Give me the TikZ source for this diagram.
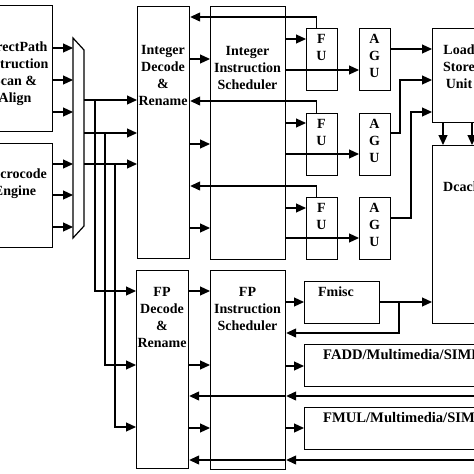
\documentclass[tikz,border=0pt]{standalone}
\usepackage{fontspec}
\setmainfont{Liberation Serif}
\usetikzlibrary{arrows.meta, positioning, calc}

\tikzset{
  blk/.style={draw, line width=1.2pt, inner sep=0pt, anchor=north west},
  lbl/.style={font=\fontsize{14}{17}\selectfont\bfseries, align=center, inner sep=0pt},
  arr/.style={line width=1.2pt, -{Triangle[length=10pt, width=9pt]}},
  wire/.style={line width=1.2pt}
}

\begin{document}
\begin{tikzpicture}[x=1pt, y=-1pt]
    \useasboundingbox (0,0) rectangle (474,474);
    \clip (0,0) rectangle (474,474);
    \node[blk, minimum width=74, minimum height=126] (dpath)  at (-22,5)  {};
    \node[blk, minimum width=74, minimum height=104] (mcode)  at (-22,143) {};
    \node[blk, minimum width=52, minimum height=252] (intdec) at (137,6)  {};
    \node[blk, minimum width=75, minimum height=253] (intsch) at (210,6)  {};
    \node[blk, minimum width=52, minimum height=198] (fpdec)  at (136,270) {};
    \node[blk, minimum width=75, minimum height=199] (fpsch)  at (210,270) {};
    \node[blk, minimum width=80, minimum height=94]  (lsu)    at (432,28) {};
    \node[blk, minimum width=80, minimum height=178] (dcache) at (432,145) {};
    \node[blk, minimum width=75, minimum height=42]  (fmisc)  at (304,281) {};
    \node[blk, minimum width=200, minimum height=42] (fadd)   at (304,344) {};
    \node[blk, minimum width=200, minimum height=42] (fmul)   at (304,407) {};
    \foreach \n/\t in {1/28, 2/113, 3/197}{%
      \node[blk, minimum width=31, minimum height=62] (fu\n)  at (306,\t) {};
      \node[blk, minimum width=31, minimum height=62] (agu\n) at (359,\t) {};
      \node[lbl] (fu\n T)  at (321.5,\t+19) {F\\U};
      \node[lbl] (agu\n T) at (374.5,\t+28) {A\\G\\U};
    }
    \draw[wire] (73,38) -- (84,50) -- (84,226) -- (73,238) -- cycle;
    \coordinate (muxL) at (73,0);
    \coordinate (muxR) at (84,0);

    \node[lbl] (dpathT)  at (15,74)    {DirectPath\\Instruction\\Scan \&\\Align};
    \node[lbl] (mcodeT)  at (15,184)   {Microcode\\Engine};
    \node[lbl] (intdecT) at (163,75)   {Integer\\Decode\\\&\\Rename};
    \node[lbl] (intschT) at (247.5,68) {Integer\\Instruction\\Scheduler};
    \node[lbl] (fpdecT)  at (162,317)  {FP\\Decode\\\&\\Rename};
    \node[lbl] (fpschT)  at (247.5,309) {FP\\Instruction\\Scheduler};
    \node[lbl] (lsuT)    at (459,67)   {Load\\Store\\Unit};
    \node[lbl] (dcacheT) at (465,187)  {Dcache};
    \node[lbl] (fmiscT)  at (336,292)  {Fmisc};
    \node[lbl, font=\fontsize{14.6}{17}\selectfont\bfseries, anchor=west] (faddT) at (323,355) {FADD/Multimedia/SIMD};
    \node[lbl, font=\fontsize{14.6}{17}\selectfont\bfseries, anchor=west] (fmulT) at (323,418) {FMUL/Multimedia/SIMD};

    \foreach \y in {48,80,112} \draw[arr] (dpath.east |- 0,\y) -- (muxL |- 0,\y);
    \foreach \y in {164,195,227} \draw[arr] (mcode.east |- 0,\y) -- (muxL |- 0,\y);
    \foreach \y/\x/\yy in {100/95/291, 133/105/365, 164/115/427}{%
      \draw[arr] (muxR |- 0,\y) -- (intdec.west |- 0,\y);
      \draw[arr] (\x,\y) -- (\x,\yy) -- (fpdec.west |- 0,\yy);
    }
    \foreach \y in {59,144,228} \draw[arr] (intdec.east |- 0,\y) -- (intsch.west |- 0,\y);
    \foreach \y in {291,365,428} \draw[arr] (fpdec.east |- 0,\y) -- (fpsch.west |- 0,\y);
    \foreach \n/\r/\f/\g in {1/17/39/70, 2/101/123/154, 3/186/208/238}{%
      \draw[arr] ([xshift=-5.5pt]fu\n.north) |- (intdec.east |- 0,\r);
      \draw[arr] (intsch.east |- 0,\f) -- (fu\n.west |- 0,\f);
      \draw[arr] (intsch.east |- 0,\g) -- (agu\n.west |- 0,\g);
    }
    \draw[arr] (agu1.east |- 0,49) -- (lsu.west |- 0,49);
    \draw[arr] (agu2.east |- 0,133) -| (400,80) -- (lsu.west |- 0,80);
    \draw[arr] (agu3.east |- 0,218) -| (411,112) -- (lsu.west |- 0,112);
    \foreach \x in {443,472} \draw[arr] (lsu.south -| \x,0) -- (dcache.north -| \x,0);

    \draw[arr] (fpsch.east |- 0,302) -- (fmisc.west |- 0,302);
    \draw[arr] (fmisc.east |- 0,302) -- (dcache.west |- 0,302);
    \draw[arr] (399,302) |- (fpsch.east |- 0,333);
    \draw[arr] (fpsch.east |- 0,366) -- (fadd.west |- 0,366);
    \draw[arr] (fpsch.east |- 0,428) -- (fmul.west |- 0,428);
    \foreach \y in {396,460}{%
      \coordinate (ret\y) at (490,\y);
      \draw[arr] (ret\y) -- (fpsch.east |- 0,\y);
      \draw[arr] (fpsch.east |- 0,\y) -- (fpdec.east |- 0,\y);
    }
  \end{tikzpicture}
\end{document}
